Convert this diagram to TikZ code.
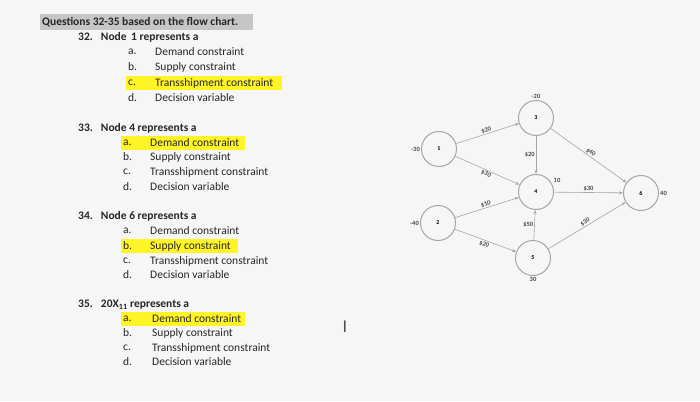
\documentclass[tikz,border=0pt]{standalone}
\usepackage{fontspec}
\setmainfont{Carlito}
\usetikzlibrary{arrows.meta}
\begin{document}
\begin{tikzpicture}[x=1pt,y=-1pt,
  t/.style={anchor=west,inner sep=0pt,font=\fontsize{11.5}{12}\selectfont,text=black!85},
  qb/.style={t,font=\fontsize{11.5}{12}\selectfont\bfseries},
  hl/.style={fill=yellow!85!white},
  nd/.style={circle,draw=gray!70,line width=1pt,minimum size=35pt,inner sep=0pt,font=\fontsize{6}{7}\selectfont\bfseries},
  sm/.style={font=\fontsize{6.5}{7}\selectfont\bfseries,text=black!70,inner sep=1pt},
  ar/.style={-{Stealth[length=4pt]},draw=gray!70,line width=0.6pt}]
\fill[white!93!gray] (0,0) rectangle (700,401);
\useasboundingbox (0,0) rectangle (700,401);
% highlights
\fill[gray!45] (40,14) rectangle (253,30);
\fill[hl] (126,76) rectangle (282,90);
\fill[hl] (121,136) rectangle (245,150);
\fill[hl] (121,239) rectangle (238,253);
\fill[hl] (121,312) rectangle (245,326);
\node[qb] (h) at (42,22) {Questions 32-35 based on the flow chart.};
\node[qb] (q32) at (78,37) {32.\hspace{8pt}Node\, 1 represents a};
\foreach \l/\s/\y [count=\i] in {a./Demand constraint/52,b./Supply constraint/67,c./Transshipment constraint/83,d./Decision variable/98}{
  \node[t] (a32\i) at (128,\y) {\l}; \node[t] (b32\i) at (155,\y) {\s};}
\node[qb] (q33) at (78,128) {33.\hspace{8pt}Node 4 represents a};
\foreach \l/\s/\y [count=\i] in {a./Demand constraint/143,b./Supply constraint/157,c./Transshipment constraint/172,d./Decision variable/187}{
  \node[t] (a33\i) at (123,\y) {\l}; \node[t] (b33\i) at (150,\y) {\s};}
\node[qb] (q34) at (78,216) {34.\hspace{8pt}Node 6 represents a};
\foreach \l/\s/\y [count=\i] in {a./Demand constraint/231,b./Supply constraint/246,c./Transshipment constraint/261,d./Decision variable/275}{
  \node[t] (a34\i) at (123,\y) {\l}; \node[t] (b34\i) at (150,\y) {\s};}
\node[qb] (q35) at (78,305) {35.\hspace{8pt}20X$_{\mathbf{11}}$ represents a};
\foreach \l/\s/\y [count=\i] in {a./Demand constraint/319,b./Supply constraint/333,c./Transshipment constraint/348,d./Decision variable/362}{
  \node[t] (a35\i) at (123,\y) {\l}; \node[t] (b35\i) at (152,\y) {\s};}
\node[font=\fontsize{18}{18}\selectfont\rmfamily,text=black!70] (cur) at (345,327) {I};
% network
\node[nd] (n1) at (439,149) {1};
\node[nd] (n2) at (438,223) {2};
\node[nd] (n3) at (536,118) {3};
\node[nd] (n4) at (536,192) {4};
\node[nd] (n5) at (533,258) {5};
\node[nd] (n6) at (641,193) {6};
\node[sm,anchor=east] (l1) at (n1.west) {-30};
\node[sm,anchor=east] (l2) at (n2.west) {-40};
\node[sm,anchor=south] (l3) at (n3.north) {-20};
\node[sm] (l4) at (557,180) {10};
\node[sm,anchor=north] (l5) at (n5.south) {30};
\node[sm,anchor=west] (l6) at (n6.east) {40};
\draw[ar] (n1) -- node[sm,sloped,above] {\$20} (n3);
\draw[ar] (n1) -- node[sm,sloped,below] {\$30} (n4);
\draw[ar] (n2) -- node[sm,sloped,above] {\$10} (n4);
\draw[ar] (n2) -- node[sm,sloped,below] {\$20} (n5);
\draw[ar] (n3) -- node[sm,left] {\$20} (n4);
\draw[ar] (n3) -- node[sm,sloped,above] {\$40} (n6);
\draw[ar] (n4) -- node[sm,above] {\$30} (n6);
\draw[ar] (n5) -- node[sm,left] {\$50} (n4);
\draw[ar] (n5) -- node[sm,sloped,above] {\$30} (n6);
\end{tikzpicture}
\end{document}
